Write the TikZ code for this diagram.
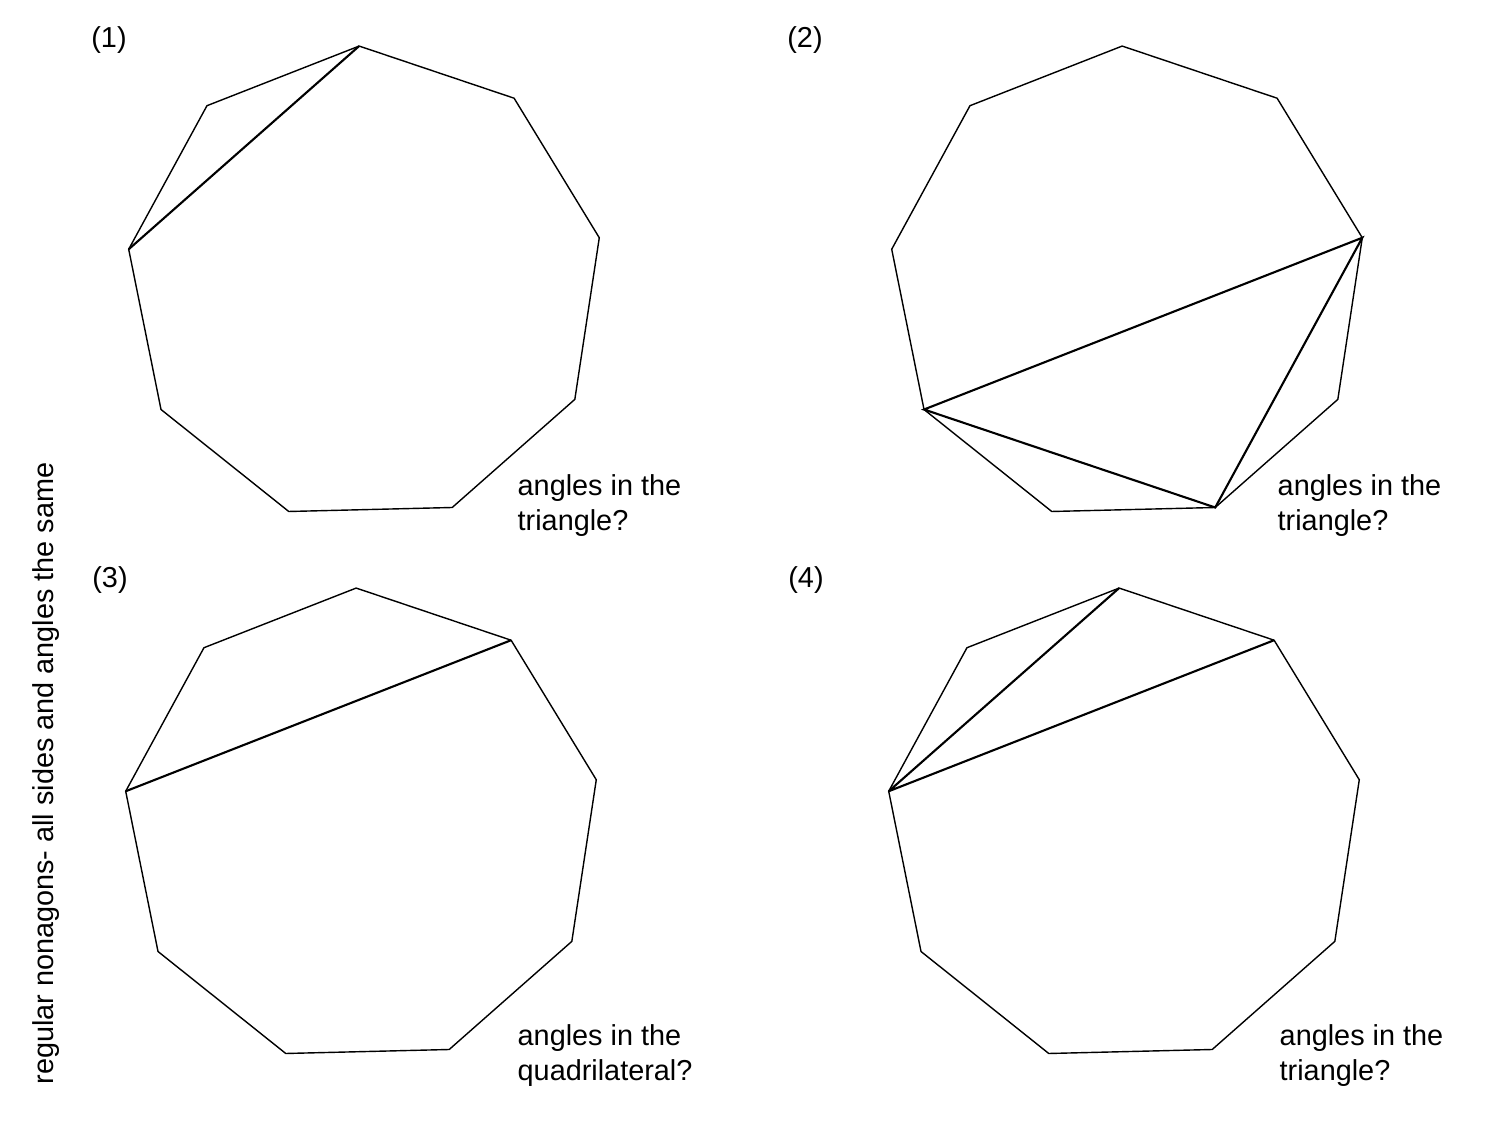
\documentclass[tikz,border=0pt]{standalone}
\usepackage{fontspec}
\setmainfont{Liberation Sans}
\usetikzlibrary{positioning,calc}

\tikzset{
    side/.style={line width=0.4pt},
    diag/.style={line width=0.6pt},
    tag/.style={font=\fontsize{8.2}{9.96}\selectfont, inner sep=0pt},
    ask/.style={tag, align=left, anchor=north west}
}

\begin{document}
\begin{tikzpicture}[x=0.01cm, y=0.01cm]
    \useasboundingbox (0,0) rectangle (1500,1125);

    % Corners of the four nonagons
    \foreach \n/\cx/\cy in {a/365/840, b/1128/840, c/362/298, d/1125/298}
        \foreach \k in {0,...,8}
            \coordinate (\n\k) at ($(\cx,\cy)+(91.4-40*\k:239)$);

    % Outlines
    \foreach \n in {a,b,c,d}
        \draw[side] (\n0) -- (\n1) -- (\n2) -- (\n3) -- (\n4) -- (\n5) -- (\n6) -- (\n7) -- (\n8) -- cycle;

    % Diagonals
    \draw[diag] (a7) -- (a0); % (1)
    \draw[diag] (b2) -- (b6) -- (b4) -- cycle; % (2)
    \draw[diag] (c7) -- (c1); % (3)
    \draw[diag] (d7) -- (d0) (d7) -- (d1); % (4)

    % Numbers
    \node[tag] (n1) at (109,1085) {(1)};
    \node[tag] (n2) at (805,1085) {(2)};
    \node[tag] (n3) at (110,545) {(3)};
    \node[tag] (n4) at (806,545) {(4)};

    % Questions
    \node[ask] (q1) at (517,651) {angles in the\\triangle?};
    \node[ask] (q2) at (1277,651) {angles in the\\triangle?};
    \node[ask] (q3) at (517,101) {angles in the\\quadrilateral?};
    \node[ask] (q4) at (1279,101) {angles in the\\triangle?};

    % Side note
    \node[tag, rotate=90] (note) at (46,351.5) {regular nonagons- all sides and angles the same};
\end{tikzpicture}
\end{document}
